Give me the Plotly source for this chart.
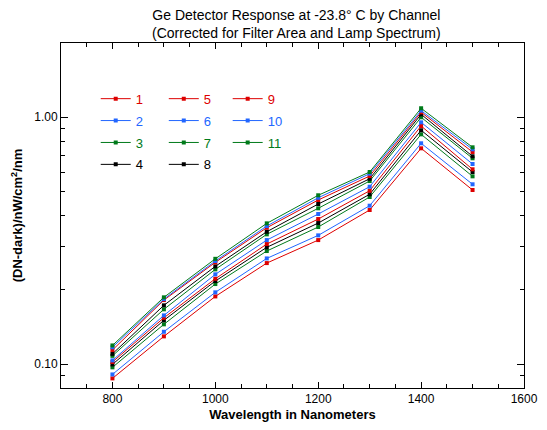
import plotly.graph_objects as go

wavelengths = [800, 900, 1000, 1100, 1200, 1300, 1400, 1500]

ch1 = [0.0875, 0.1295, 0.188, 0.2566, 0.318, 0.421, 0.7486, 0.5075]
ch2 = [0.0908, 0.1352, 0.1953, 0.268, 0.3323, 0.4383, 0.7846, 0.5352]
ch3 = [0.097, 0.1449, 0.211, 0.2871, 0.3592, 0.4753, 0.853, 0.5764]
ch4 = [0.0997, 0.1504, 0.217, 0.2972, 0.3728, 0.4875, 0.886, 0.600]
ch5 = [0.102, 0.154, 0.2217, 0.3064, 0.387, 0.504, 0.922, 0.6155]
ch6 = [0.1035, 0.1575, 0.231, 0.318, 0.4055, 0.5233, 0.954, 0.6467]
ch7 = [0.108, 0.1667, 0.242, 0.3355, 0.4277, 0.5516, 1.0, 0.682]
ch8 = [0.110, 0.173, 0.2489, 0.3438, 0.4452, 0.5636, 1.028, 0.695]
ch9 = [0.114, 0.1817, 0.2584, 0.3568, 0.4622, 0.578, 1.048, 0.7233]
ch10 = [0.117, 0.1834, 0.2616, 0.3625, 0.472, 0.5907, 1.064, 0.7418]
ch11 = [0.119, 0.1864, 0.267, 0.3717, 0.483, 0.6002, 1.088, 0.7557]

channel_names = ["1", "2", "3", "4", "5", "6", "7", "8", "9", "10", "11"]
channel_values = [ch1, ch2, ch3, ch4, ch5, ch6, ch7, ch8, ch9, ch10, ch11]

RED, BLUE, GREEN, BLACK = "#dd0000", "#2266ff", "#007a1a", "#000000"
colors = [RED, BLUE, GREEN, BLACK, RED, BLUE, GREEN, BLACK, RED, BLUE, GREEN]
legends = ["legend"] * 4 + ["legend2"] * 4 + ["legend3"] * 3

fig = go.Figure()
for i, (name, vals) in enumerate(zip(channel_names, channel_values)):
    c = colors[i]
    fig.add_trace(go.Scatter(
        x=wavelengths, y=vals, mode="lines+markers",
        name=f"<span style='color:{c}'>{name}</span>",
        line=dict(color=c, width=1),
        marker=dict(color=c, size=4, symbol="square"),
        legend=legends[i], legendgroup=f"g{i}",
    ))

font = "Liberation Sans, Arial, sans-serif"
leg_common = dict(bgcolor="rgba(0,0,0,0)", borderwidth=0, font=dict(size=13, family=font),
                  tracegroupgap=2, yanchor="top", xanchor="left", itemwidth=30)

fig.update_layout(
    width=539, height=422,
    margin=dict(l=53, r=23, t=35, b=42, autoexpand=False),
    paper_bgcolor="white", plot_bgcolor="white",
    font=dict(family=font, size=12, color="black"),
    title=dict(text="Ge Detector Response at -23.8° C by Channel<br>(Corrected for Filter Area and Lamp Spectrum)",
               x=0.535, xanchor="center", y=0.971, yanchor="middle", font=dict(size=14, family=font),
               automargin=False),
    legend=dict(x=0.075, y=0.882, **leg_common),
    legend2=dict(x=0.222, y=0.882, **leg_common),
    legend3=dict(x=0.36, y=0.882, **leg_common),
    xaxis=dict(range=[700, 1600], tickmode="array", tickvals=[800, 1000, 1200, 1400, 1600],
               ticks="inside", ticklen=6, tickcolor="black", showline=True, linecolor="black",
               linewidth=1, mirror="ticks", showgrid=False, zeroline=False, automargin=False,
               minor=dict(ticks="inside", ticklen=4, dtick=50, tick0=700, tickcolor="black", showgrid=False),
               title=dict(text="<b>Wavelength in Nanometers</b>", font=dict(size=13, family=font), standoff=4)),
    yaxis=dict(type="log", range=[-1.0969, 0.301], tickmode="array", tickvals=[0.1, 1.0],
               ticktext=["0.10", "1.00"], ticks="inside", ticklen=7, tickcolor="black",
               showline=True, linecolor="black", linewidth=1, mirror="ticks", showgrid=False,
               zeroline=False, automargin=False,
               minor=dict(ticks="inside", ticklen=4, tickcolor="black", showgrid=False,
                          tickvals=[0.09, 0.2, 0.3, 0.4, 0.5, 0.6, 0.7, 0.8, 0.9, 2.0]),
               title=dict(text="<b>(DN-dark)/nW/cm<sup>2</sup>/nm</b>", font=dict(size=13, family=font), standoff=8)),
)

fig.write_html("out.html")
